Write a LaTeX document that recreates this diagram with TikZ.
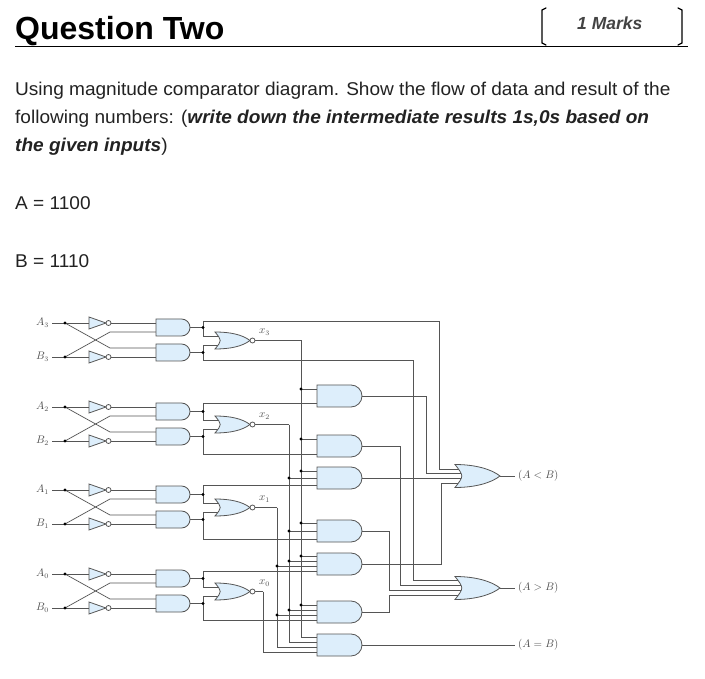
\documentclass[tikz,border=0pt]{standalone}
\usepackage{fontspec}
\setmainfont{Liberation Serif}
\newfontfamily\hd[FakeStretch=1.03]{Liberation Sans}
\newfontfamily\hdt{Liberation Sans}
\usetikzlibrary{calc}
\definecolor{gfill}{HTML}{DDEEFB}
\definecolor{wire}{HTML}{555555}
\definecolor{txt}{HTML}{222222}
\tikzset{
 w/.style={draw=wire,line width=0.7pt},
 gate/.style={draw=wire,line width=0.8pt,fill=gfill},
 dotj/.style={circle,fill=black,inner sep=0pt,minimum size=3.2pt},
 lbl/.style={font=\fontsize{10.5}{11}\selectfont\bfseries\itshape,text=txt!80,inner sep=1pt},
 body/.style={font=\hd\fontsize{18.5}{20}\selectfont,text=txt,anchor=base west,inner sep=0pt},
}
\newcommand\andL[2]{\draw[gate] (#1,#2-8.5) -- (#1+25.5,#2-8.5) arc(-90:90:8.5) -- (#1,#2+8.5) -- cycle;}
\newcommand\andR[2]{\draw[gate] (#1,#2-11) -- (#1+34,#2-11) arc(-90:90:11) -- (#1,#2+11) -- cycle;}
\newcommand\orG[2]{\draw[gate] (#1,#2-11.5) .. controls (#1+20,#2-11.5) and (#1+36,#2-7) .. (#1+45,#2) .. controls (#1+36,#2+7) and (#1+20,#2+11.5) .. (#1,#2+11.5) .. controls (#1+9,#2) .. (#1,#2-11.5) -- cycle;}
\newcommand\norG[2]{\draw[gate] (#1,#2-8.5) .. controls (#1+15,#2-8.5) and (#1+27,#2-6) .. (#1+35,#2) .. controls (#1+27,#2+6) and (#1+15,#2+8.5) .. (#1,#2+8.5) .. controls (#1+7,#2) .. (#1,#2-8.5) -- cycle;
 \draw[gate,fill=white] (#1+37.5,#2) circle (2.5);}
\newcommand\invG[2]{\draw[gate] (#1,#2-6) -- (#1+17,#2) -- (#1,#2+6) -- cycle; \draw[gate,fill=white] (#1+19.5,#2) circle (2.5);}
\begin{document}
\begin{tikzpicture}[x=1pt,y=-1pt]
\useasboundingbox (0,0) rectangle (705,679);
\fill[white] (0,0) rectangle (705,679);
% header
\node[font=\hdt\bfseries\fontsize{32}{34}\selectfont,anchor=base west,inner sep=0pt] (title) at (15,40) {Question Two};
\draw[line width=1pt] (15,47) -- (688,47);
\node[font=\hdt\bfseries\itshape\fontsize{17.5}{18}\selectfont,text=txt!85,anchor=base west,inner sep=0pt] (marks) at (577,30) {1 Marks};
\draw[line width=1.3pt,line cap=round] (546,8) -- (542,10) -- (542,43) -- (546,45);
\draw[line width=1.3pt,line cap=round] (678,8) -- (682,10) -- (682,43) -- (678,45);
\node[body] (l1) at (15,96) {Using magnitude comparator diagram. Show the flow of data and result of the};
\node[body] (l2) at (15,124) {following numbers: (\textbf{\textit{write down the intermediate results 1s,0s based on}}};
\node[body] (l3) at (15,152) {\textbf{\textit{the given inputs}})};
\node[body] (va) at (15,210) {A = 1100};
\node[body] (vb) at (15,268) {B = 1110};
% ---- wiring ----
\foreach \a/\k/\xv/\T/\Bo in {323/3/301/321/360, 407/2/289/403/454, 490/1/277/485/539, 574/0/263/571/620}{
 \pgfmathsetmacro\b{\a+34}
 \node[lbl,anchor=east] (A\k) at (50,\a) {$A_\k$};
 \node[lbl,anchor=east] (B\k) at (50,\b) {$B_\k$};
 \draw[w] (52,\a) -- (89,\a); \draw[w] (52,\b) -- (89,\b);
 \draw[w] (111,\a) -- (157,\a); \draw[w] (111,\b) -- (157,\b);
 \draw[w] (65,\a) -- (110,\a+25) -- (157,\a+25);
 \draw[w] (65,\b) -- (110,\a+9) -- (157,\a+9);
 \node[dotj] at (65,\a) {}; \node[dotj] at (65,\b) {};
 \invG{89}{\a} \invG{89}{\b}
 \draw[w] (190,\a+4.5) -- (203,\a+4.5);
 \draw[w] (190,\a+29.5) -- (203,\a+29.5);
 \draw[w] (203,\T) -- (203,\a+13) -- (218,\a+13);
 \draw[w] (203,\Bo) -- (203,\a+22) -- (218,\a+22);
 \node[dotj] at (203,\a+4.5) {}; \node[dotj] at (203,\a+29.5) {};
 \andL{156}{\a+4.5} \andL{156}{\a+29.5}
 \draw[w] (255,\a+17.5) -- (\xv,\a+17.5);
 \norG{215}{\a+17.5}
 \node[lbl,anchor=west] (x\k) at (258,\a+9) {$x_\k$};
}
% x verticals
\draw[w] (301,340.5) -- (301,637) -- (318,637);
\draw[w] (289,424.5) -- (289,642) -- (318,642);
\draw[w] (277,507.5) -- (277,647) -- (318,647);
\draw[w] (263,591.5) -- (263,652) -- (318,652);
% x taps
\foreach \y in {389,439,471,523,556,605}{\draw[w] (301,\y) -- (318,\y); \node[dotj] at (301,\y) {};}
\foreach \y in {478,531,561,610}{\draw[w] (289,\y) -- (318,\y); \node[dotj] at (289,\y) {};}
\foreach \y in {566,615}{\draw[w] (277,\y) -- (318,\y); \node[dotj] at (277,\y) {};}
% stage lines
\draw[w] (203,321) -- (439,321) -- (439,469) -- (461,469);
\draw[w] (203,360) -- (413,360) -- (413,580) -- (461,580);
\draw[w] (203,403) -- (318,403);
\draw[w] (203,454) -- (318,454);
\draw[w] (203,485) -- (318,485);
\draw[w] (203,539) -- (318,539);
\draw[w] (203,571) -- (318,571);
\draw[w] (203,620) -- (318,620);
% AND outputs
\draw[w] (362,396) -- (426,396) -- (426,473) -- (461,473);
\draw[w] (362,446) -- (400,446) -- (400,585) -- (461,585);
\draw[w] (362,478) -- (461,478);
\draw[w] (362,531) -- (389,531) -- (389,590) -- (461,590);
\draw[w] (362,564) -- (441,564) -- (441,483) -- (461,483);
\draw[w] (362,612) -- (389,612) -- (389,595) -- (461,595);
\draw[w] (362,645) -- (515,645);
\draw[w] (500,476) -- (515,476);
\draw[w] (500,588) -- (515,588);
\foreach \c in {396,446,478,531,564,612,645}{\andR{317}{\c}}
\orG{455}{476} \orG{455}{588}
\node[lbl,anchor=west] (lt) at (517,476) {$(A<B)$};
\node[lbl,anchor=west] (gt) at (517,588) {$(A>B)$};
\node[lbl,anchor=west] (eq) at (517,645) {$(A=B)$};
\end{tikzpicture}
\end{document}
